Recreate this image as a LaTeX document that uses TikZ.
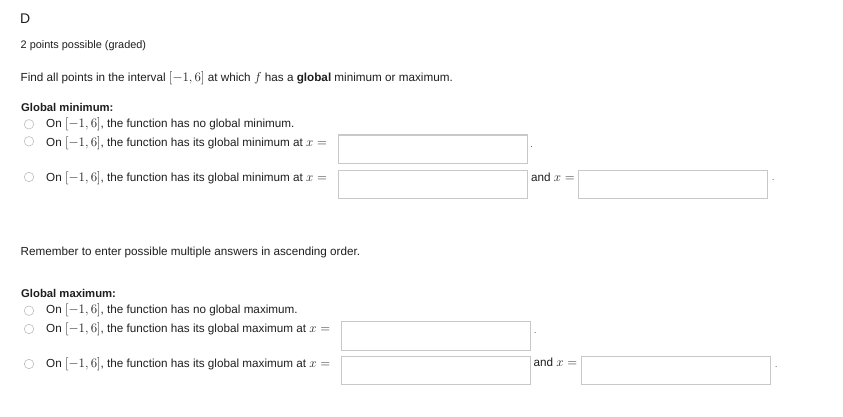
\RequirePackage{fix-cm}
\documentclass[tikz,border=0pt]{standalone}
\usepackage{fontspec}
\setmainfont{Liberation Sans}
\usepackage{amsmath}
\usetikzlibrary{positioning}
\definecolor{ink}{HTML}{1E1E1E}
\definecolor{boxline}{HTML}{C8C8C8}
\definecolor{radioline}{HTML}{BDBDBD}
\newcommand{\mth}[1]{{\fontsize{13}{14}\selectfont$#1$}}

\begin{document}
\begin{tikzpicture}[
    x=1pt, y=-1pt,
    font=\fontsize{11.7}{13}\selectfont,
    text=ink,
    txt/.style={
		anchor=base west,
		inner sep=0pt
	},
	head/.style={
		txt,
		font=\fontsize{11.3}{13}\selectfont\bfseries
	},
	radio/.style={
		circle,
		draw=radioline,
		line width=0.6pt,
		minimum size=9.5pt,
		inner sep=0pt
	},
	answer/.style={
		rectangle,
		draw=boxline,
		line width=1.1pt,
		fill=white,
		minimum width=189pt,
		minimum height=28.5pt,
		inner sep=0pt,
		anchor=north west
	},
	pdot/.style={
		txt,
		font=\fontsize{8}{9}\selectfont
	}
  ]
  \useasboundingbox (0,0) rectangle (843,417);

    % title and question
  \node [txt, font=\fontsize{14}{16}\selectfont] (title) at (20,23.3) {D};
  \node [txt, font=\fontsize{10.9}{12}\selectfont] (points) at (20.5,49) {2 points possible (graded)};
  \node [txt] (question) at (20.5,81.3)
  {Find all points in the interval \mth{[-1,6]} at which \mth{f} has a \textbf{global} minimum or maximum.};

    % global minimum
  \node [head] (minhead) at (21,112) {Global minimum:};

  \node [radio] (minradio1) at (29,124.3) {};
  \node [txt] (minopt1) at (46,127.7) {On \mth{[-1,6]}, the function has no global minimum.};

  \node [radio] (minradio2) at (29,141.3) {};
  \node [txt] (minopt2) at (46,146.7) {On \mth{[-1,6]}, the function has its global minimum at \mth{x=}};
  \node [answer] (minbox1) at (337.5,134.5) {};
  \node [pdot] (mindot1) at (530.5,147) {.};

  \node [radio] (minradio3) at (29,177) {};
  \node [txt] (minopt3) at (46,181.7) {On \mth{[-1,6]}, the function has its global minimum at \mth{x=}};
  \node [answer] (minbox2) at (337.5,169.5) {};
  \node [txt] (minand) at (531,181.7) {and \mth{x=}};
  \node [answer, right=50.5pt of minbox2] (minbox3) {};
  \node [pdot] (mindot2) at (772,180) {.};

    % note
  \node [txt] (note) at (20.5,255.7) {Remember to enter possible multiple answers in ascending order.};

    % global maximum
  \node [head] (maxhead) at (21,297.7) {Global maximum:};

  \node [radio] (maxradio1) at (29,310.7) {};
  \node [txt] (maxopt1) at (46,313.3) {On \mth{[-1,6]}, the function has no global maximum.};

  \node [radio] (maxradio2) at (29,329) {};
  \node [txt] (maxopt2) at (46,332.3) {On \mth{[-1,6]}, the function has its global maximum at \mth{x=}};
  \node [answer] (maxbox1) at (340.5,321) {};
  \node [pdot] (maxdot1) at (534,333.5) {.};

  \node [radio] (maxradio3) at (29,364) {};
  \node [txt] (maxopt3) at (46,367) {On \mth{[-1,6]}, the function has its global maximum at \mth{x=}};
  \node [answer] (maxbox2) at (340.5,355.5) {};
  \node [txt] (maxand) at (533.5,366.7) {and \mth{x=}};
  \node [answer, right=50pt of maxbox2] (maxbox3) {};
  \node [pdot] (maxdot2) at (775,367) {.};

\end{tikzpicture}
\end{document}
